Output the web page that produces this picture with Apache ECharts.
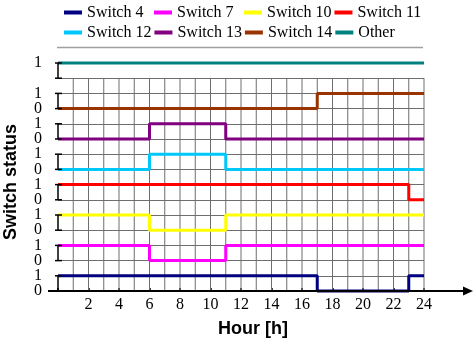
<!DOCTYPE html>
<html>
<head>
<meta charset="utf-8">
<script src="https://cdn.jsdelivr.net/npm/echarts@6/dist/echarts.min.js"></script>
<style>
  html, body { margin: 0; padding: 0; background: #fff; }
  #chart { width: 474px; height: 343px; }
</style>
</head>
<body>
<div id="chart"></div>
<script>
// Hour boundaries of the day
const hours = [0, 1, 2, 3, 4, 5, 6, 7, 8, 9, 10, 11, 12, 13, 14, 15, 16, 17, 18, 19, 20, 21, 22, 23, 24];

// Series names, in legend order
const seriesNames = ['Switch 4', 'Switch 7', 'Switch 10', 'Switch 11', 'Switch 12', 'Switch 13', 'Switch 14', 'Other'];

// Status of each switch during hour h (h = 0..23), 1 = closed, 0 = open
const switch4  = [1,1,1,1,1,1,1,1,1,1,1,1,1,1,1,1,1,0,0,0,0,0,0,1];
const switch7  = [1,1,1,1,1,1,0,0,0,0,0,1,1,1,1,1,1,1,1,1,1,1,1,1];
const switch10 = [1,1,1,1,1,1,0,0,0,0,0,1,1,1,1,1,1,1,1,1,1,1,1,1];
const switch11 = [1,1,1,1,1,1,1,1,1,1,1,1,1,1,1,1,1,1,1,1,1,1,1,0];
const switch12 = [0,0,0,0,0,0,1,1,1,1,1,0,0,0,0,0,0,0,0,0,0,0,0,0];
const switch13 = [0,0,0,0,0,0,1,1,1,1,1,0,0,0,0,0,0,0,0,0,0,0,0,0];
const switch14 = [0,0,0,0,0,0,0,0,0,0,0,0,0,0,0,0,0,1,1,1,1,1,1,1];
const other    = [1,1,1,1,1,1,1,1,1,1,1,1,1,1,1,1,1,1,1,1,1,1,1,1];

// x-axis tick labels (0 is left blank)
const xTickLabels = ['', '2', '4', '6', '8', '10', '12', '14', '16', '18', '20', '22', '24'];
// y-axis tick labels, one per stacked level
const yTickLabels = ['0','1','0','1','0','1','0','1','0','1','0','1','0','1','','1'];

// Each series is stacked on its own band of two levels
const statusSeries = [switch4, switch7, switch10, switch11, switch12, switch13, switch14, other];
const bandBase = [0, 2, 4, 6, 8, 10, 12, 14];
const colors = ['#000080', '#FF00FF', '#FFFF00', '#FF0000', '#00C8FA', '#800080', '#993300', '#008080'];

const serif = '"Liberation Serif", "Times New Roman", serif';
const sans = '"Liberation Sans", Arial, sans-serif';

const chart = echarts.init(document.getElementById('chart'), null, { renderer: 'canvas' });

const lineSeries = statusSeries.map(function (vals, i) {
  const pts = hours.map(function (h) {
    const s = h < 24 ? vals[h] : vals[23];
    return [h, bandBase[i] + s];
  });
  return {
    name: seriesNames[i],
    type: 'line',
    step: 'end',
    data: pts,
    symbol: 'none',
    clip: false,
    z: 5,
    color: colors[i],
    lineStyle: { width: 3, color: colors[i] },
    animation: false
  };
});

// Vertical grid lines at every hour, spanning levels 0..14
const gridLines = {
  type: 'custom',
  silent: true,
  z: 1,
  data: hours.slice(1),
  renderItem: function (params, api) {
    const h = api.value(0);
    const a = api.coord([h, 0]);
    const b = api.coord([h, 14]);
    return {
      type: 'line',
      shape: { x1: a[0], y1: a[1], x2: b[0], y2: b[1] },
      style: { stroke: '#6e6e6e', lineWidth: 1 }
    };
  },
  encode: { x: 0 }
};

// Bracket marks on the y axis, one per band, with the 0/1 labels of that band
const brackets = {
  type: 'custom',
  silent: true,
  z: 6,
  data: bandBase,
  renderItem: function (params, api) {
    const v = api.value(0);
    const lo = api.coord([0, v]);
    const hi = api.coord([0, v + 1]);
    const x = lo[0];
    const st = { stroke: '#000', lineWidth: 1.5 };
    const lbl = function (y, t) {
      return { type: 'text', x: x - 16, y: y,
        style: { text: t, font: '16px ' + serif, fill: '#000', align: 'right', verticalAlign: 'middle' } };
    };
    return {
      type: 'group',
      children: [
        { type: 'line', shape: { x1: x, y1: lo[1], x2: x, y2: hi[1] }, style: st },
        { type: 'line', shape: { x1: x - 3, y1: lo[1], x2: x + 4, y2: lo[1] }, style: st },
        { type: 'line', shape: { x1: x - 3, y1: hi[1], x2: x + 4, y2: hi[1] }, style: st },
        lbl(lo[1], yTickLabels[v]),
        lbl(hi[1], yTickLabels[v + 1])
      ]
    };
  },
  encode: { y: 0 }
};

// Horizontal axis line with an arrow head past the last hour
const xAxisArrow = {
  type: 'custom',
  silent: true,
  z: 7,
  data: [[0, 0]],
  renderItem: function (params, api) {
    const a = api.coord([0, 0]);
    const b = api.coord([24, 0]);
    const tip = b[0] + 49;
    return {
      type: 'group',
      children: [
        { type: 'line', shape: { x1: a[0] - 10, y1: a[1], x2: tip - 6, y2: a[1] },
          style: { stroke: '#000', lineWidth: 2 } },
        { type: 'polygon', shape: { points: [[tip, a[1]], [tip - 10, a[1] - 4.5], [tip - 10, a[1] + 4.5]] },
          style: { fill: '#000' } }
      ]
    };
  }
};

chart.setOption({
  animation: false,
  backgroundColor: '#fff',
  grid: { left: 58, right: 50, top: 63, bottom: 52 },
  legend: {
    data: seriesNames,
    left: 59,
    top: -1,
    width: 400,
    itemGap: 3,
    itemWidth: 18,
    itemHeight: 4,
    icon: 'rect',
    textStyle: { fontFamily: serif, fontSize: 16, color: '#000', width: 64, lineHeight: 17 }
  },
  xAxis: {
    type: 'value',
    min: 0,
    max: 24,
    interval: 2,
    axisLine: { show: false },
    axisTick: { show: true, inside: true, length: 3, lineStyle: { color: '#000', width: 1.5 } },
    splitLine: { show: false },
    axisLabel: {
      margin: 6,
      fontFamily: serif,
      fontSize: 16,
      color: '#000',
      formatter: function (v) { return xTickLabels[Math.round(v / 2)]; }
    }
  },
  yAxis: {
    type: 'value',
    min: 0,
    max: 15,
    interval: 1,
    axisLine: { show: false },
    axisTick: { show: false },
    axisLabel: { show: false },
    splitLine: { show: true, lineStyle: { color: '#6e6e6e', width: 1 } }
  },
  graphic: [
    { type: 'line', silent: true, shape: { x1: 57, y1: 47.5, x2: 423, y2: 47.5 },
      style: { stroke: '#a0a0a0', lineWidth: 1.5 } },
    { type: 'text', silent: true, x: 253, y: 329.5,
      style: { text: 'Hour [h]', font: 'bold 18px ' + sans, fill: '#000', align: 'center', verticalAlign: 'middle' } },
    { type: 'text', silent: true, x: 11, y: 182, rotation: Math.PI / 2,
      style: { text: 'Switch status', font: 'bold 18px ' + sans, fill: '#000', align: 'center', verticalAlign: 'middle' } }
  ],
  series: [gridLines, brackets, xAxisArrow].concat(lineSeries)
});
</script>
</body>
</html>
